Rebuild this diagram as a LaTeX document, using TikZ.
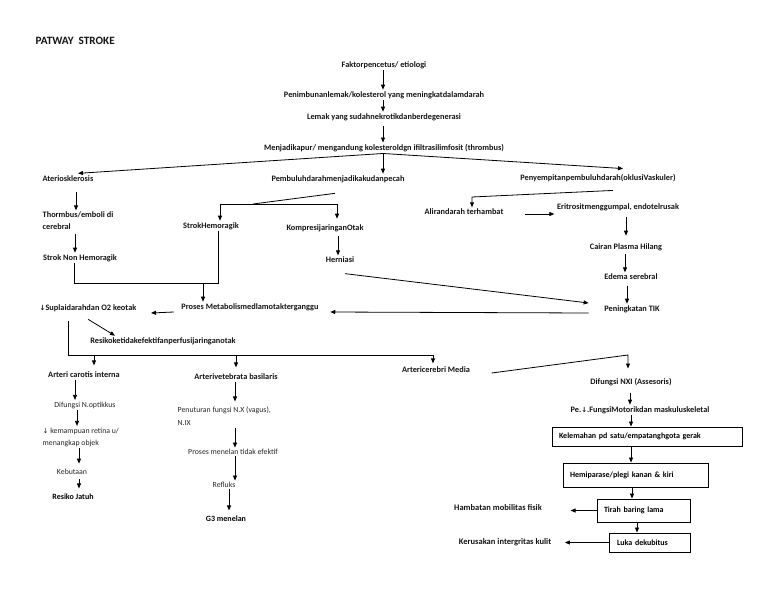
\documentclass[tikz,border=0pt]{standalone}
\usepackage{fontspec}
\setmainfont{Carlito}
\newfontfamily\arrowfont{DejaVu Sans}
\usetikzlibrary{arrows.meta,calc}
\begin{document}
\begin{tikzpicture}[x=1pt,y=-1pt,
  t/.style={font=\fontsize{8.3}{10}\selectfont\bfseries, inner sep=1.5pt, text=black!92},
  ts/.style={font=\fontsize{8}{10}\selectfont\bfseries, inner sep=1.5pt},
  tr/.style={font=\fontsize{7.8}{10}\selectfont, inner sep=1.5pt, text=black!85},
  boxn/.style={draw, line width=0.9pt, font=\fontsize{8}{10}\selectfont\bfseries, align=left, inner ysep=0pt},
  arr/.style={line width=0.8pt, -{Triangle[length=5pt,width=4pt]}},
  ln/.style={line width=0.8pt}]
\useasboundingbox (0,0) rectangle (768,594);
\fill[white] (0,0) rectangle (768,594);

% ---------- nodes ----------
\node[t, font=\fontsize{11.2}{13}\selectfont\bfseries, anchor=west] (title) at (34,41) {PATWAY\ \ STROKE};
\node[t] (faktor) at (384,65) {Faktorpencetus/ etiologi};
\node[t] (penimbunan) at (384,95) {Penimbunanlemak/kolesterol yang meningkatdalamdarah};
\node[t] (lemak) at (384,117) {Lemak yang sudahnekrotikdanberdegenerasi};
\node[t] (menjadi) at (384,148) {Menjadikapur/ mengandung kolesteroldgn ifiltrasilimfosit (thrombus)};

\node[t] (ater) at (68,179) {Ateriosklerosis};
\node[t, font=\fontsize{8.3}{12}\selectfont\bfseries, align=left, anchor=west] (thormbus) at (41,221) {Thormbus/emboli di\\cerebral};
\node[t] (strokNon) at (80,258) {Strok Non Hemoragik};

\node[t] (pembuluh) at (338,179) {Pembuluhdarahmenjadikakudanpecah};
\node[t] (strokHem) at (211,226) {StrokHemoragik};
\node[t] (kompresi) at (325,228) {KompresijaringanOtak};
\node[t] (herniasi) at (340,260) {Herniasi};

\node[t] (penyempitan) at (598,178) {Penyempitanpembuluhdarah(oklusiVaskuler)};
\node[t] (aliran) at (464,212) {Alirandarah terhambat};
\node[t] (eritrosit) at (618,207) {Eritrositmenggumpal, endotelrusak};
\node[t] (cairan) at (626,247) {Cairan Plasma Hilang};
\node[t] (edema) at (631,277) {Edema serebral};
\node[t] (tik) at (632,309) {Peningkatan TIK};

\node[t] (proses) at (250,307) {Proses Metabolismedlamotakterganggu};
\node[t] (suplai) at (88,308) {{\arrowfont\fontsize{7}{9}\selectfont ↓}Suplaidarahdan O2 keotak};
\node[t] (resiko1) at (163,341) {Resikoketidakefektifanperfusijaringanotak};

\node[t] (carotis) at (84,375) {Arteri carotis interna};
\node[t] (vertebra) at (236,377) {Arterivetebrata basilaris};
\node[t] (cerebri) at (436,370) {Artericerebri Media};

\node[tr] (difOpt) at (85,405) {Difungsi N.optikkus};
\node[tr, font=\fontsize{7.8}{12}\selectfont, align=left, anchor=west] (kemampuan) at (41,437) {{\arrowfont\fontsize{7}{9}\selectfont ↓} kemampuan retina u/\\menangkap objek};
\node[tr] (kebutaan) at (72,472) {Kebutaan};
\node[ts] (resikoJatuh) at (73,497) {Resiko Jatuh};

\node[tr, font=\fontsize{7.8}{13}\selectfont, align=left, anchor=west] (penuturan) at (176,416.5) {Penuturan fungsi N.X (vagus),\\N.IX};
\node[tr] (menelanTidak) at (233,452) {Proses menelan tidak efektif};
\node[tr] (refluks) at (224,485) {Refluks};
\node[ts] (g3) at (226,519) {G3 menelan};

\node[t] (difungsiNXI) at (631,382) {Difungsi NXI (Assesoris)};
\node[t] (pefungsi) at (640,410) {Pe.{\arrowfont\fontsize{7}{9}\selectfont ↓}.FungsiMotorikdan maskuluskeletal};
\node[boxn, text width=176pt, inner xsep=7pt, minimum height=19pt] (kel) at (647,436.5) {Kelemahan pd satu/empatanghgota gerak};
\node[boxn, text width=131pt, inner xsep=7pt, minimum height=24pt] (hemi) at (635.5,475) {Hemiparase/plegi kanan \& kiri};
\node[boxn, text width=79pt, inner xsep=7pt, minimum height=23pt] (tirah) at (643.5,510.5) {Tirah baring lama};
\node[boxn, text width=65pt, inner xsep=8pt, minimum height=19pt] (luka) at (649.5,542.5) {Luka dekubitus};
\node[t, font=\fontsize{8.5}{10}\selectfont\bfseries] (hambatan) at (498,508) {Hambatan mobilitas fisik};
\node[t, font=\fontsize{8.5}{10}\selectfont\bfseries] (kerusakan) at (505,542) {Kerusakan intergritas kulit};

% ---------- coordinates ----------
\coordinate (cA) at (383,0);
\coordinate (cL1) at (76,0);
\coordinate (cL2) at (75,0);
\coordinate (j1) at (74,283);
\coordinate (j2) at (218,283);
\coordinate (j3) at (203,283);
\coordinate (h0) at (68,355);
\coordinate (hA) at (94,355);
\coordinate (hB) at (236,355);
\coordinate (h1) at (433,355);
\coordinate (k1) at (628,355);
\coordinate (r1) at (630,0);
\coordinate (r2) at (631,0);
\coordinate (r3) at (632,0);
\coordinate (r4) at (637,0);
\coordinate (a1) at (472,197);
\coordinate (q1) at (626,0);
\coordinate (q2) at (625,0);
\coordinate (q3) at (627,0);
\coordinate (q4) at (338,0);
\coordinate (p1) at (253,204);
\coordinate (p2) at (220,204);
\coordinate (p3) at (337,204);
\coordinate (v1) at (75,0);
\coordinate (v2) at (77,0);
\coordinate (v3) at (79,0);
\coordinate (v4) at (235,0);
\coordinate (v5) at (229,0);
\coordinate (hamT) at ($(hambatan.east)+(27,0)$);
\coordinate (kerT) at ($(kerusakan.east)+(12,0)$);

% ---------- connectors ----------
\draw[arr] (faktor.south -| cA) -- (cA |- penimbunan.north);
\draw[arr] (penimbunan.south -| cA) -- (cA |- lemak.north);
\draw[arr, shorten <=4pt] (lemak.south -| cA) -- (cA |- menjadi.north);
\draw[arr] (menjadi.south -| cA) -- (cA |- pembuluh.north);
\draw[arr] (menjadi.south -| cA) -- ($(ater.north)+(10,-1)$);
\draw[arr] (menjadi.south -| cA) -- ($(penyempitan.north)+(25,-4)$);

\draw[arr, shorten <=8pt] (ater.south -| cL1) -- (cL1 |- thormbus.north);
\draw[arr, shorten <=2pt] (thormbus.south -| cL2) -- (cL2 |- strokNon.north);
\draw[ln] (strokNon.south -| j1) -- (j1) -- (j2) -- (strokHem.south -| j2);
\draw[arr] (j3) -- (j3 |- proses.north);

\draw[ln] ($(pembuluh.south)+(-3,9)$) -- (p1);
\draw[ln] (p2) -- (p3);
\draw[arr] (p2) -- (p2 |- strokHem.north);
\draw[arr, shorten >=4pt] (p3) -- (p3 |- kompresi.north);
\draw[arr, shorten <=3pt] (kompresi.south -| q4) -- (q4 |- herniasi.north);

\draw[arr] ($(penyempitan.south)+(15,7)$) -- (a1) -- (a1 |- aliran.north);
\draw[arr] ($(aliran.east)+(20,2)$) -- ($(eritrosit.west)+(-1,7)$);
\draw[arr, shorten <=5pt, shorten >=6pt] (eritrosit.south -| q1) -- (q1 |- cairan.north);
\draw[arr, shorten <=2pt] (cairan.south -| q2) -- (q2 |- edema.north);
\draw[arr, shorten <=4pt] (edema.south -| q3) -- (q3 |- tik.north);
\draw[arr] ($(herniasi.south)+(5,9)$) -- ($(tik.west)+(-14,-6)$);
\draw[arr] ($(tik.west)+(-14,4)$) -- ($(proses.east)+(10,5)$);

\draw[arr] ($(proses.west)+(-6,5)$) -- ($(suplai.east)+(13,5)$);
\draw[arr] ($(suplai.south)+(0,6)$) -- ($(resiko1.north)+(-48,0)$);
\draw[ln] ($(suplai.south)+(-20,8)$) -- (h0) -- (h1);
\draw[arr, shorten >=5pt] (hA) -- (hA |- carotis.north);
\draw[arr, shorten >=5pt] (hB) -- (hB |- vertebra.north);
\draw[arr, shorten >=2pt] (h1) -- (h1 |- cerebri.north);
\draw[arr, shorten >=8pt] ($(cerebri.east)+(20,3)$) -- (k1) -- (k1 |- difungsiNXI.north);

\draw[arr, shorten <=6pt] (difungsiNXI.south -| r1) -- (r1 |- pefungsi.north);
\draw[arr] (pefungsi.south -| r2) -- (r2 |- kel.north);
\draw[arr] (kel.south -| r2) -- (r2 |- hemi.north);
\draw[arr] (hemi.south -| r3) -- (r3 |- tirah.north);
\draw[arr] (tirah.south -| r4) -- (r4 |- luka.north);
\draw[arr] (tirah.west) -- (hamT |- tirah.west);
\draw[arr] (luka.west) -- (kerT |- luka.west);

\draw[arr] (carotis.south -| v1) -- (v1 |- difOpt.north);
\draw[arr] (difOpt.south -| v2) -- (v2 |- kemampuan.north);
\draw[arr, shorten >=4pt] (kemampuan.south -| v3) -- (v3 |- kebutaan.north);
\draw[arr, shorten <=3pt, shorten >=4pt] (kebutaan.south -| v3) -- (v3 |- resikoJatuh.north);
\draw[arr, shorten >=4pt] (vertebra.south -| v4) -- (v4 |- penuturan.north);
\draw[arr] (penuturan.south -| v4) -- (v4 |- menelanTidak.north);
\draw[arr] (menelanTidak.south -| v4) -- (v4 |- refluks.north);
\draw[arr, shorten >=4pt] (refluks.south -| v5) -- (v5 |- g3.north);
\end{tikzpicture}
\end{document}
